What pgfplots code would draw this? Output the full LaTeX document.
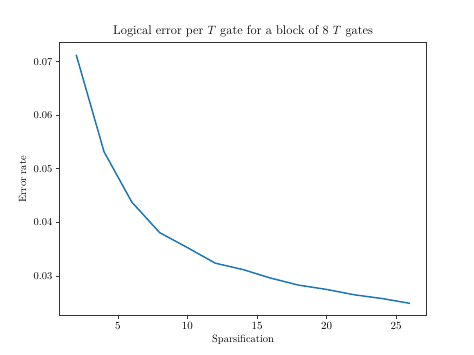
\documentclass[border=0pt]{standalone}
\usepackage{pgfplots}
\pgfplotsset{compat=1.18}
\definecolor{mplblue}{HTML}{1F77B4}
\begin{document}
\begin{tikzpicture}[x=1pt,y=1pt]
\useasboundingbox (-59.5,-39.3) rectangle (414.5,315.7);
\begin{axis}[
  at={(0,0)}, anchor=south west,
  scale only axis,
  width=367.2pt, height=273pt,
  xmin=0.8, xmax=27.2,
  ymin=0.0226, ymax=0.07354,
  xtick={5,10,15,20,25},
  ytick={0.03,0.04,0.05,0.06,0.07},
  yticklabels={0.03,0.04,0.05,0.06,0.07},
  scaled y ticks=false,
  tick align=outside,
  major tick length=3.6pt,
  xtick pos=bottom, ytick pos=left,
  axis line style={line width=0.8pt, black!80},
  every tick/.style={line width=0.8pt, black!80},
  tick label style={font=\fontsize{10.5}{12}\selectfont},
  title={Logical error per $T$ gate for a block of 8 $T$ gates},
  every axis title/.style={at={(axis description cs:0.5,1)}, anchor=center, yshift=11pt, inner sep=0pt, font=\fontsize{12.6}{15}\selectfont},
  xlabel={Sparsification},
  every axis x label/.style={at={(axis description cs:0.5,0)}, anchor=center, yshift=-24.3pt, inner sep=0pt, font=\fontsize{10.5}{12}\selectfont},
  ylabel={Error rate},
  every axis y label/.style={at={(axis description cs:0,0.5)}, anchor=center, xshift=-36.8pt, rotate=90, inner sep=0pt, font=\fontsize{10.5}{12}\selectfont},
]
\addplot[mplblue, line width=1.5pt] coordinates {
(2,0.0713) (4,0.0532) (6,0.0438) (8,0.0381) (10,0.0353) (12,0.0324)
(14,0.0312) (16,0.0296) (18,0.0283) (20,0.0275) (22,0.0265) (24,0.0258) (26,0.0249)
};
\end{axis}
\end{tikzpicture}
\end{document}
